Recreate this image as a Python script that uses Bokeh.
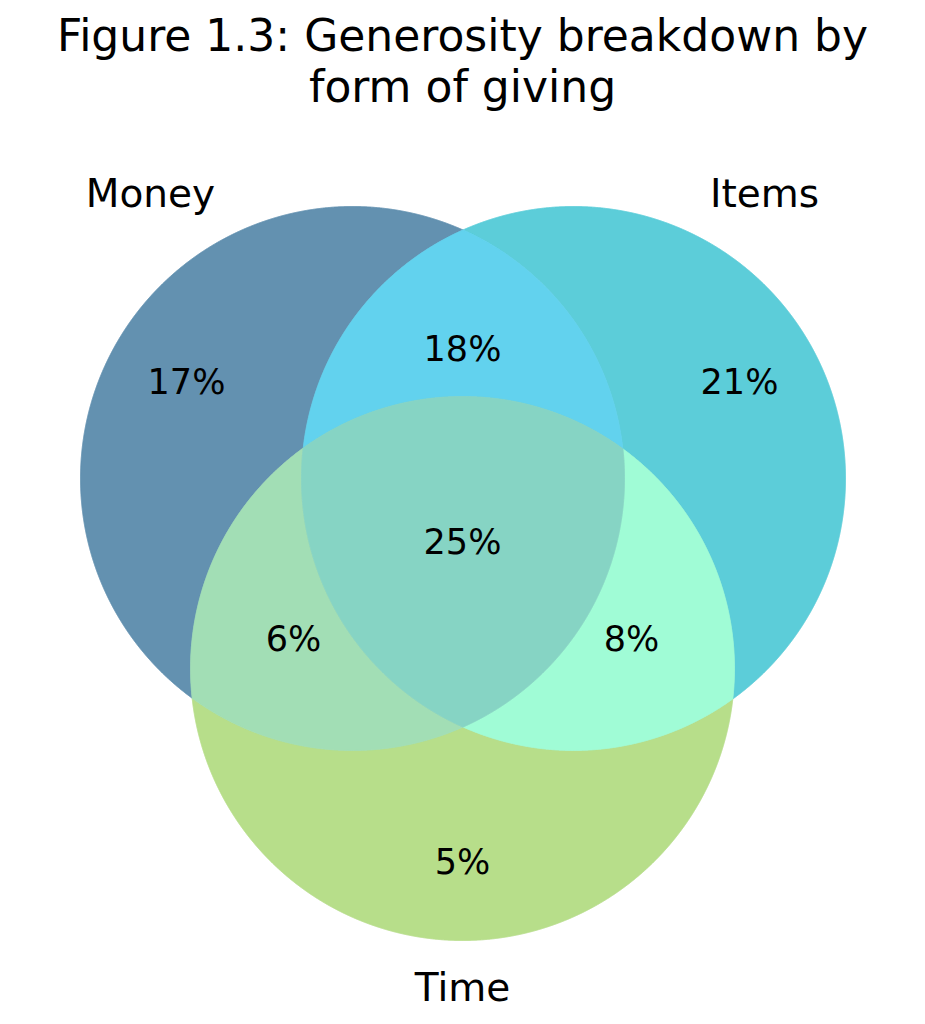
import numpy as np
from bokeh.plotting import figure
from bokeh.models import Range1d, ColumnDataSource
from bokeh.core.properties import value
from bokeh.embed import file_html
from bokeh.resources import INLINE

# ---------------- data ----------------
title_lines = ["Figure 1.3: Generosity breakdown by", "form of giving"]
set_names = ["Money", "Items", "Time"]
# region memberships (Money, Items, Time) and their shares in percent
region_members = [(1, 0, 0), (0, 1, 0), (1, 1, 0), (0, 0, 1), (1, 0, 1), (0, 1, 1), (1, 1, 1)]
region_values = [17, 21, 18, 5, 6, 8, 25]

# ---------------- layout & style (screen px, y down) ----------------
circle_centers = [(352, 478), (573, 478), (462, 668)]
circle_radius = 272
region_colors = ["#6391B0", "#5CCDD9", "#62D2EE", "#B7DE8A", "#A2DEB5", "#A0FCD6", "#86D4C4"]
region_label_pos = [(186, 381), (739, 381), (462, 348), (462, 861), (293, 638), (631, 638), (462, 541)]
set_label_pos = [(150, 193), (764, 193), (462, 987)]
title_pos = [(462, 35), (462, 86)]
FONT = "DejaVu Sans"


def region_polygon(members, n=4000):
    arcs = []
    th = np.linspace(0, 2 * np.pi, n, endpoint=False)
    for i, (cx, cy) in enumerate(circle_centers):
        px = cx + circle_radius * np.cos(th)
        py = cy + circle_radius * np.sin(th)
        mask = np.ones(n, dtype=bool)
        for j, (ox, oy) in enumerate(circle_centers):
            if j == i:
                continue
            ins = (px - ox) ** 2 + (py - oy) ** 2 < circle_radius ** 2
            mask &= ins if members[j] else ~ins
        if not mask.any():
            continue
        if mask.all():
            arcs.append(np.column_stack([px, py]))
            continue
        start = np.argmin(mask)
        m = np.roll(mask, -start)
        xs = np.roll(px, -start)
        ys = np.roll(py, -start)
        idx = np.flatnonzero(m)
        breaks = np.flatnonzero(np.diff(idx) > 1)
        runs = np.split(idx, breaks + 1)
        for r in runs:
            arcs.append(np.column_stack([xs[r], ys[r]]))
    path = arcs.pop(0)
    while arcs:
        end = path[-1]
        best, rev, bd = 0, False, 1e18
        for k, a in enumerate(arcs):
            d0 = np.hypot(*(a[0] - end))
            d1 = np.hypot(*(a[-1] - end))
            if d0 < bd:
                best, rev, bd = k, False, d0
            if d1 < bd:
                best, rev, bd = k, True, d1
        a = arcs.pop(best)
        path = np.vstack([path, a[::-1] if rev else a])
    return path[:, 0], path[:, 1]


p = figure(width=917, height=1016, output_backend="svg", toolbar_location=None,
           x_range=Range1d(0, 917), y_range=Range1d(1016, 0),
           min_border=0, outline_line_color=None)
p.axis.visible = False
p.grid.visible = False
p.background_fill_color = "white"
p.border_fill_color = "white"

xs_list, ys_list = [], []
for mem in region_members:
    x, y = region_polygon(mem)
    xs_list.append(list(x))
    ys_list.append(list(y))
src = ColumnDataSource(dict(xs=xs_list, ys=ys_list, color=region_colors,
                            val=region_values))
p.patches("xs", "ys", source=src, fill_color="color", line_color="color", line_width=1)

lab = ColumnDataSource(dict(x=[q[0] for q in region_label_pos], y=[q[1] for q in region_label_pos],
                            t=[f"{v}%" for v in region_values]))
p.text("x", "y", text="t", source=lab, text_font=value(FONT), text_font_size="35px",
       text_align="center", text_baseline="alphabetic", text_color="black")

sl = ColumnDataSource(dict(x=[q[0] for q in set_label_pos], y=[q[1] for q in set_label_pos], t=set_names))
p.text("x", "y", text="t", source=sl, text_font=value(FONT), text_font_size="39px",
       text_align="center", text_baseline="alphabetic", text_color="black")

tl = ColumnDataSource(dict(x=[q[0] for q in title_pos], y=[q[1] for q in title_pos], t=title_lines))
p.text("x", "y", text="t", source=tl, text_font=value(FONT), text_font_size="44px",
       text_align="center", text_baseline="alphabetic", text_color="black")

open("out.html", "w").write(file_html(p, INLINE))
